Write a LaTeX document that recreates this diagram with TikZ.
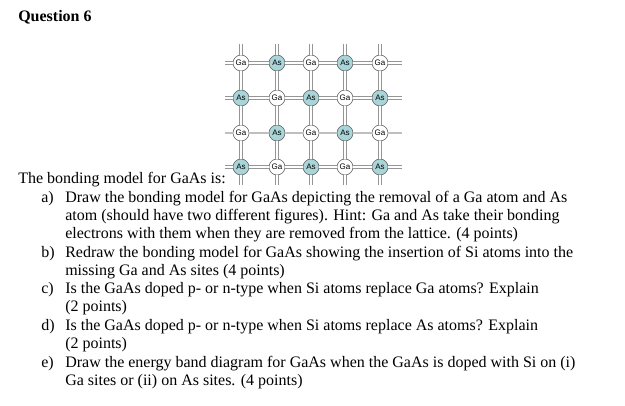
\documentclass[tikz,border=0pt]{standalone}
\usepackage{fontspec}
\setmainfont{Liberation Serif}
\newfontfamily\atomfont{Liberation Sans}
\definecolor{asfill}{HTML}{A9D5D8}
\definecolor{bondgray}{HTML}{959595}
\tikzset{
    ga atom/.style={circle,draw=black!65,line width=.4pt,fill=white,minimum size=12pt,
        inner sep=0pt,font=\atomfont\fontsize{6}{7}\selectfont},
    as atom/.style={ga atom,fill=asfill},
    bond/.style={draw=white,line width=1.1pt,preaction={draw=bondgray,line width=2.5pt}},
    flat bond/.style={draw=bondgray!60,line width=2pt},
    textline/.style={anchor=base west,inner sep=0pt,font=\fontsize{12}{13}\selectfont}
}
\begin{document}
\begin{tikzpicture}[x=.75pt,y=-.75pt]
    \useasboundingbox (0,0) rectangle (625,405);
    % lattice
    \foreach \row/\yy/\hbond in {1/63/bond,2/98/bond,3/133/flat bond,4/167/bond}{
        \foreach \col/\xx in {1/241,2/277,3/311,4/345,5/380}{
            \pgfmathtruncatemacro{\kind}{mod(\row+\col,2)}
            \ifnum\kind=0
                \node[ga atom] (a\row\col) at (\xx,\yy) {Ga};
            \else
                \node[as atom] (a\row\col) at (\xx,\yy) {As};
            \fi
        }
        \coordinate (l\row) at (225,\yy);
        \coordinate (r\row) at (402,\yy);
        \draw[\hbond] (l\row) -- (a\row1);
        \draw[\hbond] (a\row5) -- (r\row);
        \foreach \col/\nxt in {1/2,2/3,3/4,4/5}{
            \draw[\hbond] (a\row\col) -- (a\row\nxt);
        }
    }
    \foreach \col/\xx in {1/241,2/277,3/311,4/345,5/380}{
        \coordinate (t\col) at (\xx,44);
        \coordinate (b\col) at (\xx,185);
        \draw[bond] (t\col) -- (a1\col);
        \draw[bond] (a4\col) -- (b\col);
        \foreach \row/\nxt in {1/2,2/3,3/4}{
            \draw[bond] (a\row\col) -- (a\nxt\col);
        }
    }
    % question text
    \node[textline,font=\bfseries\fontsize{12}{13}\selectfont] (title) at (18,21) {Question 6};
    \node[textline] (intro) at (18,183) {The bonding model for GaAs is:};
    \node[textline] (ia) at (41,202) {a)};
    \node[textline] (a1) at (65,202) {Draw the bonding model for GaAs depicting the removal of a Ga atom and As};
    \node[textline] (a2) at (65,220) {atom (should have two different figures). Hint: Ga and As take their bonding};
    \node[textline] (a3) at (65,238) {electrons with them when they are removed from the lattice. (4 points)};
    \node[textline] (ib) at (41,257) {b)};
    \node[textline] (b1) at (65,257) {Redraw the bonding model for GaAs showing the insertion of Si atoms into the};
    \node[textline] (b2) at (65,275) {missing Ga and As sites (4 points)};
    \node[textline] (ic) at (41,293) {c)};
    \node[textline] (c1) at (65,293) {Is the GaAs doped p- or n-type when Si atoms replace Ga atoms? Explain};
    \node[textline] (c2) at (65,311) {(2 points)};
    \node[textline] (id) at (41,330) {d)};
    \node[textline] (d1) at (65,330) {Is the GaAs doped p- or n-type when Si atoms replace As atoms? Explain};
    \node[textline] (d2) at (65,348) {(2 points)};
    \node[textline] (ie) at (41,367) {e)};
    \node[textline] (e1) at (65,367) {Draw the energy band diagram for GaAs when the GaAs is doped with Si on (i)};
    \node[textline] (e2) at (65,385) {Ga sites or (ii) on As sites. (4 points)};
\end{tikzpicture}
\end{document}
